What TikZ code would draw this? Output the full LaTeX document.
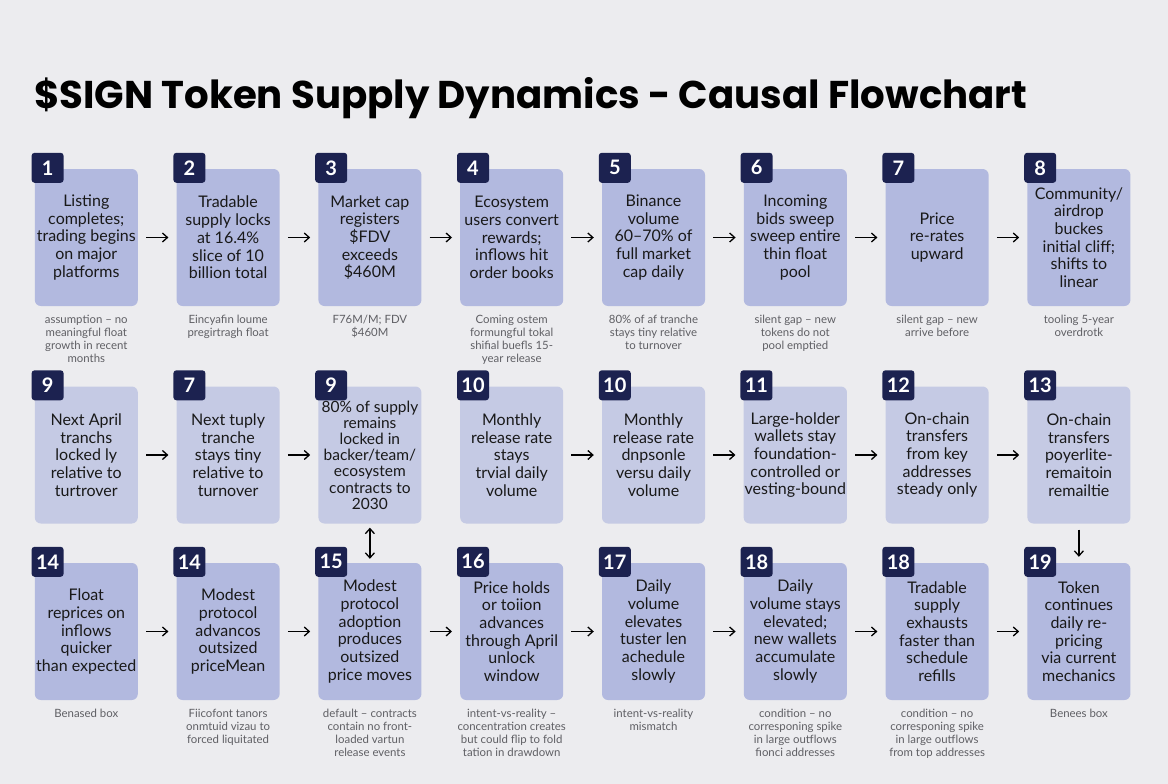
\documentclass[tikz,border=0pt]{standalone}
\usepackage{fontspec}
\setmainfont{Lato}
\newfontfamily\titlefont{Poppins}
\usetikzlibrary{arrows.meta}
\definecolor{cardL}{RGB}{178,185,223}
\definecolor{cardM}{RGB}{197,202,228}
\definecolor{badgeN}{RGB}{28,34,80}
\definecolor{bgG}{RGB}{236,236,239}
\definecolor{capG}{RGB}{95,95,100}
\newcommand{\BW}{103pt}
\newcommand{\BH}{137pt}

\begin{document}
\begin{tikzpicture}[x=1pt, y=-1pt,
    card/.style={rounded corners=6pt, minimum width=\BW, minimum height=\BH, inner sep=1pt, align=center, text=black!90, font=\fontsize{16}{17.7}\selectfont},
    dense/.style={font=\fontsize{15.5}{16.2}\selectfont},
    badge/.style={fill=badgeN, text=white, rounded corners=3pt, minimum width=32pt, minimum height=30pt, inner sep=0pt, font=\fontsize{20}{20}\selectfont\bfseries},
    notetxt/.style={text=capG, align=center, inner sep=0pt, font=\fontsize{11.4}{13}\selectfont},
    flow/.style={-{Straight Barb[length=5pt,width=9pt]}, line width=1.3pt, shorten <=8pt, shorten >=8pt},
    dflow/.style={{Straight Barb[length=5pt,width=9pt]}-{Straight Barb[length=5pt,width=9pt]}, line width=1.3pt, shorten <=4pt, shorten >=4pt},
  ]

  \newcommand{\card}[6]{% #1 name, #2 x, #3 y, #4 fill, #5 number, #6 text
    \node[card, fill=#4] (#1) at (#2,#3) {#6};
    \node[badge] (#1n) at ([xshift=13pt,yshift=1pt]#1.north west) {#5};}
  \newcommand{\note}[2]{% #1 card name, #2 caption
    \node[notetxt, anchor=north] (#1c) at ([yshift=-9pt]#1.south) {#2};}

  \fill[bgG] (0,0) rectangle (1168,784);
  \node[anchor=base west, inner sep=0pt, font=\titlefont\bfseries\fontsize{38.7}{40}\selectfont] (title) at (34,108)
    {\$SIGN Token Supply Dynamics - Causal Flowchart};

  % row 1
  \card{s11}{86.3}{237.5}{cardL}{1}{Listing\\completes;\\trading begins\\on major\\platforms}
  \card{s12}{228.1}{237.5}{cardL}{2}{Tradable\\supply locks\\at 16.4\%\\slice of 10\\billion total}
  \card{s13}{369.9}{237.5}{cardL}{3}{Market cap\\registers\\\$FDV\\exceeds\\\$460M}
  \card{s14}{511.7}{237.5}{cardL}{4}{Ecosystem\\users convert\\rewards;\\inflows hit\\order books}
  \card{s15}{653.5}{237.5}{cardL}{5}{Binance\\volume\\60--70\% of\\full market\\cap daily}
  \card{s16}{795.3}{237.5}{cardL}{6}{Incoming\\bids sweep\\sweep entire\\thin float\\pool}
  \card{s17}{937.1}{237.5}{cardL}{7}{Price\\re-rates\\upward}
  \card{s18}{1078.9}{237.5}{cardL}{8}{Community/\\airdrop\\buckes\\initial cliff;\\shifts to\\linear}
  \note{s11}{assumption -- no\\meaningful float\\growth in recent\\months}
  \note{s12}{Eincyafin loume\\pregirtragh float}
  \note{s13}{F76M/M; FDV\\\$460M}
  \note{s14}{Coming ostem\\formungful tokal\\shifial buefls 15-\\year release}
  \note{s15}{80\% of af tranche\\stays tiny relative\\to turnover}
  \note{s16}{silent gap -- new\\tokens do not\\pool emptied}
  \note{s17}{silent gap -- new\\arrive before}
  \note{s18}{tooling 5-year\\overdrotk}

  % row 2
  \card{s21}{86.3}{455}{cardM}{9}{Next April\\tranchs\\locked ly\\relative to\\turtrover}
  \card{s22}{228.1}{455}{cardM}{7}{Next tuply\\tranche\\stays tiny\\relative to\\turnover}
  \card{s23}{369.9}{455}{cardM, dense}{9}{80\% of supply\\remains\\locked in\\backer/team/\\ecosystem\\contracts to\\2030}
  \card{s24}{511.7}{455}{cardM}{10}{Monthly\\release rate\\stays\\trvial daily\\volume}
  \card{s25}{653.5}{455}{cardM}{10}{Monthly\\release rate\\dnpsonle\\versu daily\\volume}
  \card{s26}{795.3}{455}{cardM}{11}{Large-holder\\wallets stay\\foundation-\\controlled or\\vesting-bound}
  \card{s27}{937.1}{455}{cardM}{12}{On-chain\\transfers\\from key\\addresses\\steady only}
  \card{s28}{1078.9}{455}{cardM}{13}{On-chain\\transfers\\poyerlite-\\remaitoin\\remailtie}

  % row 3
  \card{s31}{86.3}{631.5}{cardL}{14}{Float\\reprices on\\inflows\\quicker\\than expected}
  \card{s32}{228.1}{631.5}{cardL}{14}{Modest\\protocol\\advancos\\outsized\\priceMean}
  \card{s33}{369.9}{631.5}{cardL}{15}{Modest\\protocol\\adoption\\produces\\outsized\\price moves}
  \card{s34}{511.7}{631.5}{cardL}{16}{Price holds\\or toiion\\advances\\through April\\unlock\\window}
  \card{s35}{653.5}{631.5}{cardL}{17}{Daily\\volume\\elevates\\tuster len\\achedule\\slowly}
  \card{s36}{795.3}{631.5}{cardL}{18}{Daily\\volume stays\\elevated;\\new wallets\\accumulate\\slowly}
  \card{s37}{937.1}{631.5}{cardL}{18}{Tradable\\supply\\exhausts\\faster than\\schedule\\refills}
  \card{s38}{1078.9}{631.5}{cardL}{19}{Token\\continues\\daily re-\\pricing\\via current\\mechanics}
  \note{s31}{Benased box}
  \note{s32}{Fiicofont tanors\\onmtuid vizau to\\forced liquitated}
  \note{s33}{default -- contracts\\contain no front-\\loaded vartun\\release events}
  \note{s34}{intent-vs-reality --\\concentration creates\\but could flip to fold\\tation in drawdown}
  \note{s35}{intent-vs-reality\\mismatch}
  \note{s36}{condition -- no\\corresponing spike\\in large outflows\\fionci addresses}
  \note{s37}{condition -- no\\corresponing spike\\in large outflows\\from top addresses}
  \note{s38}{Benees box}

  % causal links
  \foreach \c in {1,...,7} {
    \pgfmathtruncatemacro{\n}{\c+1}
    \draw[flow] (s1\c) -- (s1\n);
    \draw[flow] (s3\c) -- (s3\n);
  }
  \foreach \c in {1,2,4,5,6,7} {
    \pgfmathtruncatemacro{\n}{\c+1}
    \draw[flow] (s2\c) -- (s2\n);
  }
  \draw[dflow] (s23) -- (s33);
  \draw[flow, shorten <=6pt, shorten >=6pt] (s28) -- (s38);

\end{tikzpicture}
\end{document}
